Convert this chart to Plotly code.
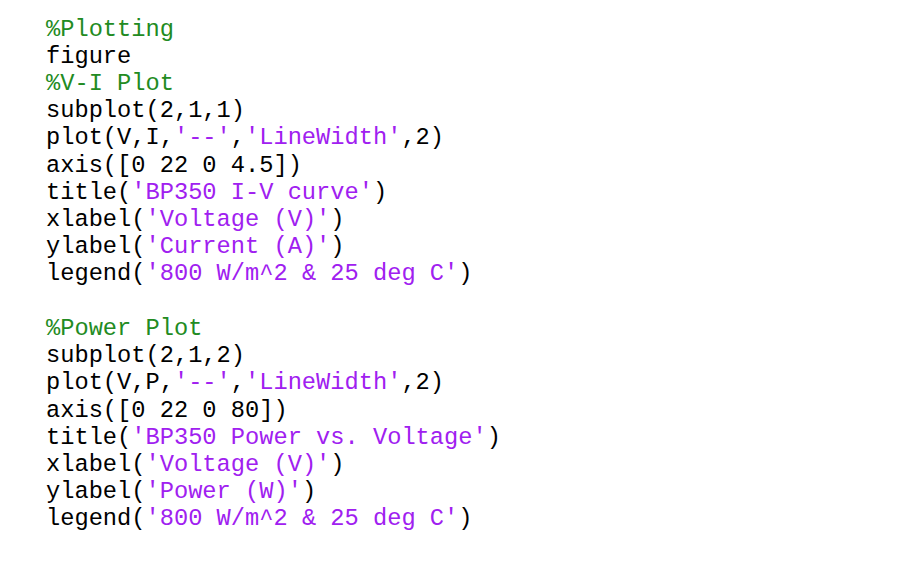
import plotly.graph_objects as go

# MATLAB editor colours
colors = {
    'code': '#000000',
    'comment': '#228B22',
    'string': '#A020F0',
}

# each line of the snippet as (text, kind) segments
code_lines = [
    [("%Plotting", 'comment')],
    [("figure", 'code')],
    [("%V-I Plot", 'comment')],
    [("subplot(2,1,1)", 'code')],
    [("plot(V,I,", 'code'), ("'--'", 'string'), (",", 'code'), ("'LineWidth'", 'string'), (",2)", 'code')],
    [("axis([0 22 0 4.5])", 'code')],
    [("title(", 'code'), ("'BP350 I-V curve'", 'string'), (")", 'code')],
    [("xlabel(", 'code'), ("'Voltage (V)'", 'string'), (")", 'code')],
    [("ylabel(", 'code'), ("'Current (A)'", 'string'), (")", 'code')],
    [("legend(", 'code'), ("'800 W/m^2 &amp; 25 deg C'", 'string'), (")", 'code')],
    [],
    [("%Power Plot", 'comment')],
    [("subplot(2,1,2)", 'code')],
    [("plot(V,P,", 'code'), ("'--'", 'string'), (",", 'code'), ("'LineWidth'", 'string'), (",2)", 'code')],
    [("axis([0 22 0 80])", 'code')],
    [("title(", 'code'), ("'BP350 Power vs. Voltage'", 'string'), (")", 'code')],
    [("xlabel(", 'code'), ("'Voltage (V)'", 'string'), (")", 'code')],
    [("ylabel(", 'code'), ("'Power (W)'", 'string'), (")", 'code')],
    [("legend(", 'code'), ("'800 W/m^2 &amp; 25 deg C'", 'string'), (")", 'code')],
]

line_h = 27.22
top = 21.0
H = 567

fig = go.Figure()

for i, segs in enumerate(code_lines):
    if not segs:
        continue
    txt = "".join(f"<span style='color:{colors[k]}'>{t}</span>" for t, k in segs)
    fig.add_annotation(
        x=36 / 921, xref='paper',
        y=i, yref='y',
        text=txt, showarrow=False,
        xanchor='left', yanchor='middle',
        font=dict(family='Liberation Mono, Courier New, monospace', size=23.7, color='black'),
    )

fig.update_xaxes(visible=False, range=[0, 1])
fig.update_yaxes(visible=False,
                 range=[(H - top) / line_h, -top / line_h])

fig.update_layout(
    width=921, height=567,
    margin=dict(l=0, r=0, t=0, b=0),
    plot_bgcolor='white', paper_bgcolor='white',
    showlegend=False,
)

fig.write_html("out.html")
